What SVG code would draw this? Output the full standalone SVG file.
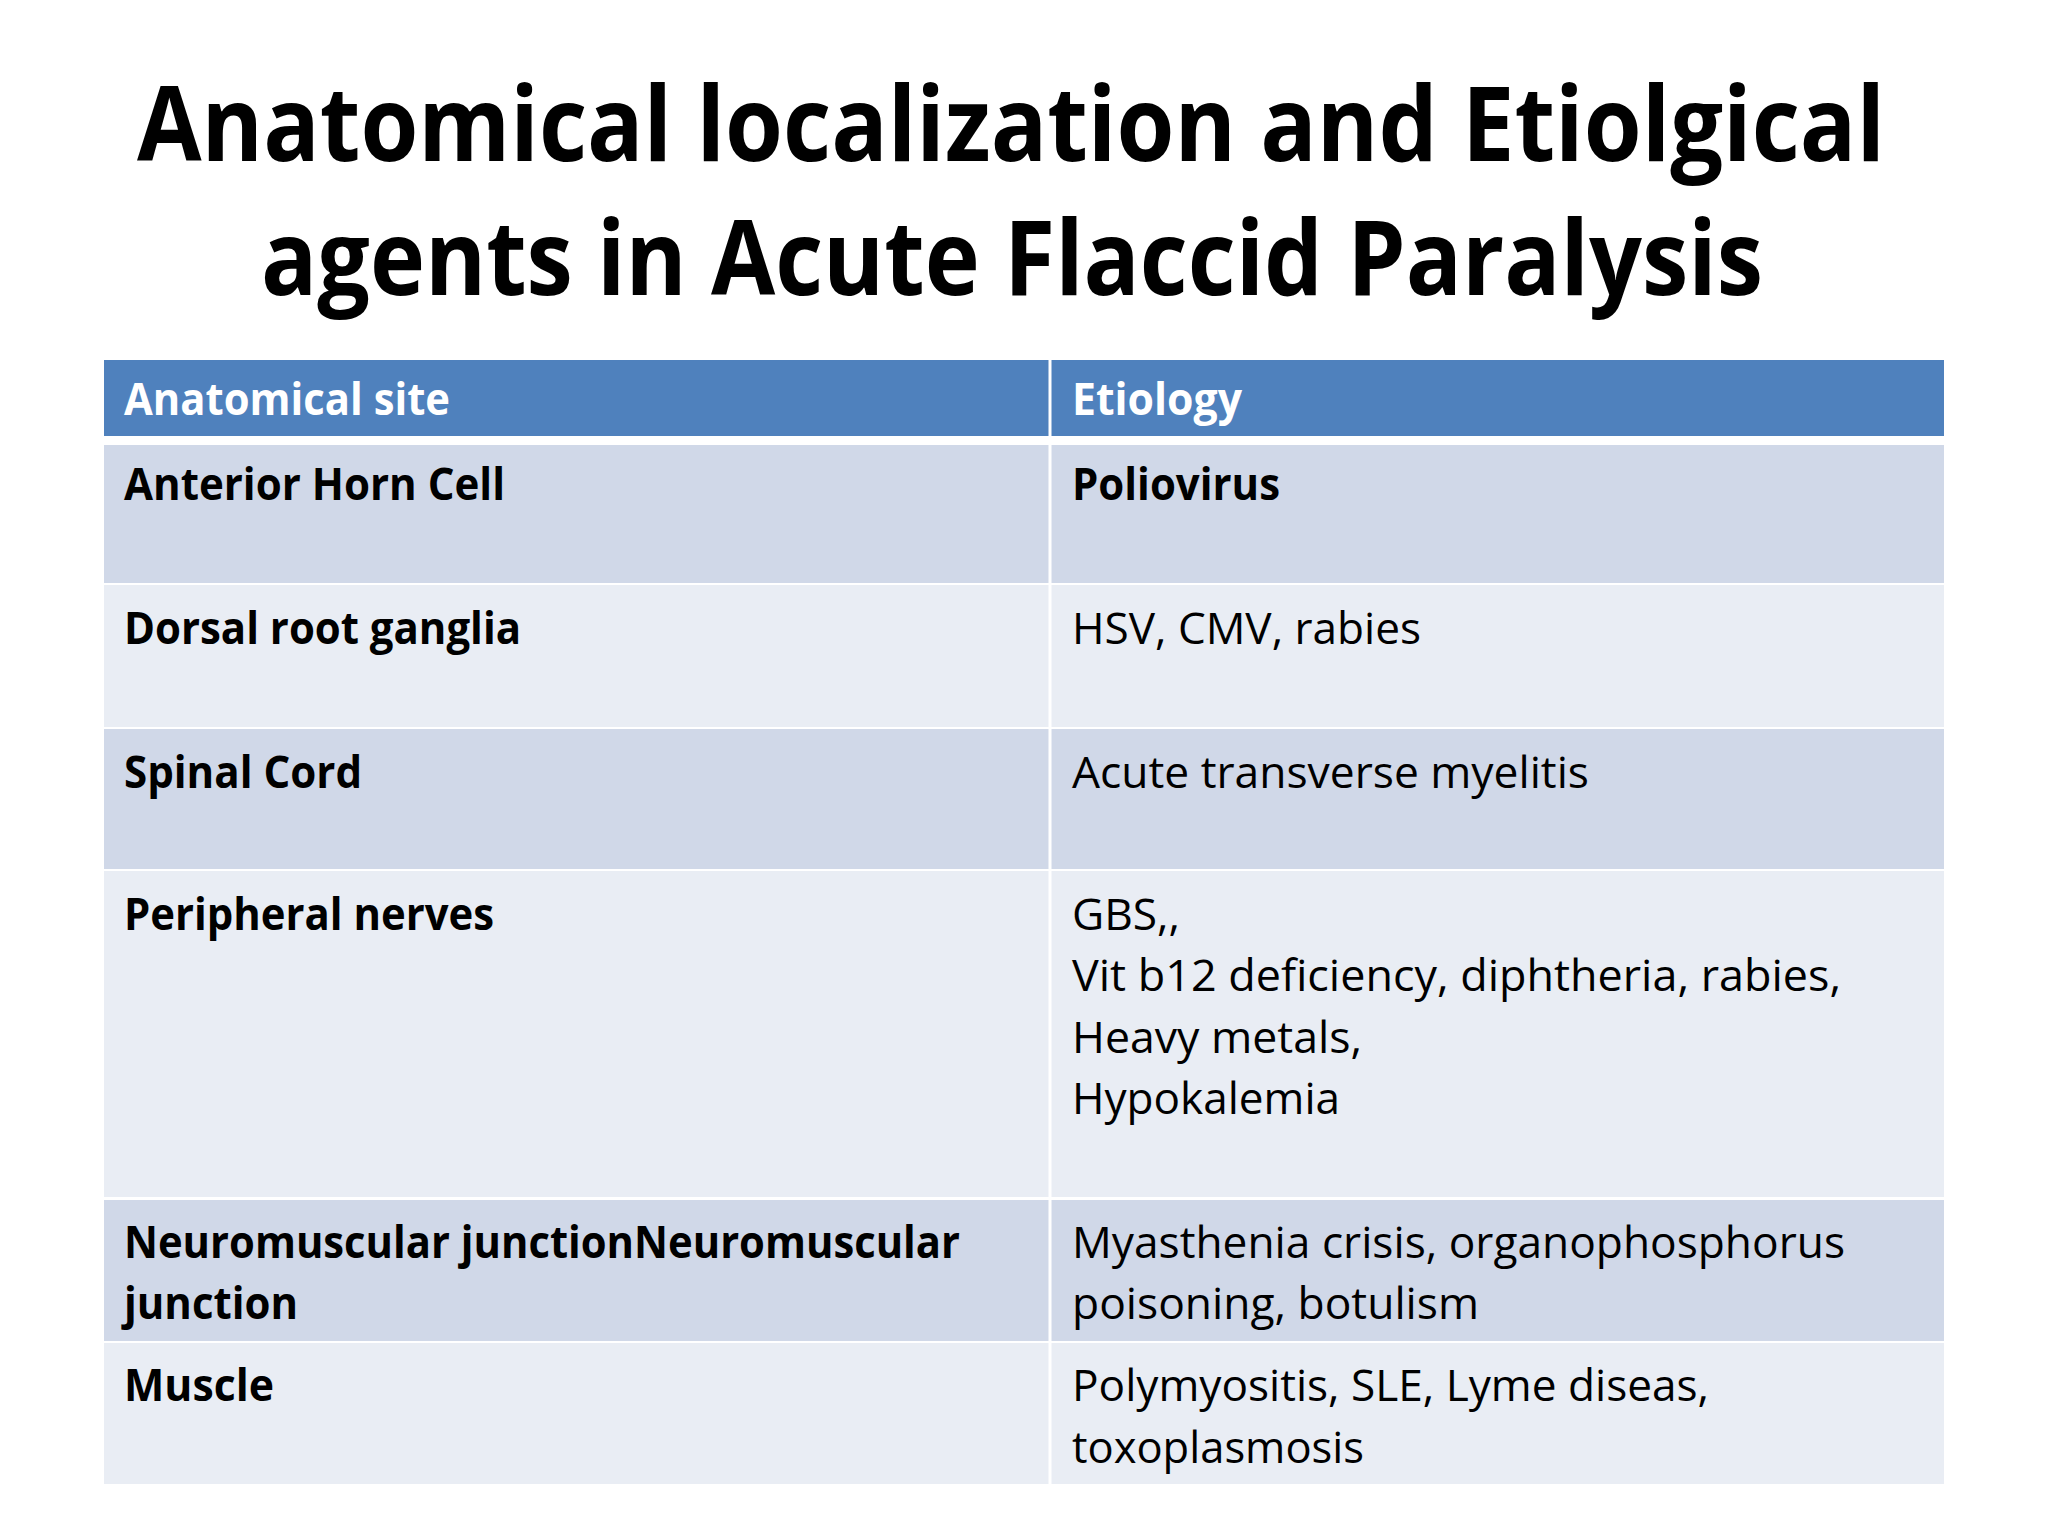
<svg xmlns="http://www.w3.org/2000/svg" width="2048" height="1536" viewBox="0 0 2048 1536">
<style>
.t{font-family:"Open Sans","Liberation Sans",sans-serif;font-weight:bold;font-size:104px;fill:#000}
.h{font-family:"Open Sans","Liberation Sans",sans-serif;font-weight:bold;font-size:44px;fill:#fff}
.b{font-family:"Open Sans","Liberation Sans",sans-serif;font-weight:bold;font-size:44px;fill:#000}
.n{font-family:"Open Sans","Liberation Sans",sans-serif;font-size:44px;fill:#000}
.o{fill:#d0d8e8}.e{fill:#e9edf4}
</style>
<rect width="2048" height="1536" fill="#fff"/>
<text class="t" x="1011" y="161" text-anchor="middle" textLength="1748" lengthAdjust="spacingAndGlyphs">Anatomical localization and Etiolgical</text>
<text class="t" x="1012" y="295" text-anchor="middle" textLength="1502" lengthAdjust="spacingAndGlyphs">agents in Acute Flaccid Paralysis</text>
<g id="table">
<rect x="104" y="360" width="1840" height="76" fill="#4f81bd"/>
<rect class="o" x="104" y="445" width="1840" height="138"/>
<rect class="e" x="104" y="585" width="1840" height="142"/>
<rect class="o" x="104" y="729" width="1840" height="140"/>
<rect class="e" x="104" y="871" width="1840" height="326"/>
<rect class="o" x="104" y="1200" width="1840" height="141"/>
<rect class="e" x="104" y="1343" width="1840" height="141"/>
<line x1="1050" y1="360" x2="1050" y2="1484" stroke="#fff" stroke-width="3"/>
</g>
<g id="text">
<text class="h" x="124" y="415" textLength="326" lengthAdjust="spacingAndGlyphs">Anatomical site</text>
<text class="h" x="1072" y="415" textLength="170" lengthAdjust="spacingAndGlyphs">Etiology</text>
<text class="b" x="124" y="500" textLength="381" lengthAdjust="spacingAndGlyphs">Anterior Horn Cell</text>
<text class="b" x="1072" y="500" textLength="208" lengthAdjust="spacingAndGlyphs">Poliovirus</text>
<text class="b" x="124" y="644" textLength="397" lengthAdjust="spacingAndGlyphs">Dorsal root ganglia</text>
<text class="n" x="1072" y="644" textLength="349" lengthAdjust="spacingAndGlyphs">HSV, CMV, rabies</text>
<text class="b" x="124" y="788" textLength="238" lengthAdjust="spacingAndGlyphs">Spinal Cord</text>
<text class="n" x="1072" y="788" textLength="517" lengthAdjust="spacingAndGlyphs">Acute transverse myelitis</text>
<text class="b" x="124" y="930" textLength="370" lengthAdjust="spacingAndGlyphs">Peripheral nerves</text>
<text class="n" x="1072" y="930" textLength="108" lengthAdjust="spacingAndGlyphs">GBS,,</text>
<text class="n" x="1072" y="991" textLength="769" lengthAdjust="spacingAndGlyphs">Vit b12 deficiency, diphtheria, rabies,</text>
<text class="n" x="1072" y="1053" textLength="290" lengthAdjust="spacingAndGlyphs">Heavy metals,</text>
<text class="n" x="1072" y="1114" textLength="268" lengthAdjust="spacingAndGlyphs">Hypokalemia</text>
<text class="b" x="124" y="1258" textLength="836" lengthAdjust="spacingAndGlyphs">Neuromuscular junctionNeuromuscular</text>
<text class="b" x="124" y="1319" textLength="174" lengthAdjust="spacingAndGlyphs">junction</text>
<text class="n" x="1072" y="1258" textLength="773" lengthAdjust="spacingAndGlyphs">Myasthenia crisis, organophosphorus</text>
<text class="n" x="1072" y="1319" textLength="407" lengthAdjust="spacingAndGlyphs">poisoning, botulism</text>
<text class="b" x="124" y="1401" textLength="150" lengthAdjust="spacingAndGlyphs">Muscle</text>
<text class="n" x="1072" y="1401" textLength="637" lengthAdjust="spacingAndGlyphs">Polymyositis, SLE, Lyme diseas,</text>
<text class="n" x="1072" y="1463" textLength="292" lengthAdjust="spacingAndGlyphs">toxoplasmosis</text>
</g>
</svg>
